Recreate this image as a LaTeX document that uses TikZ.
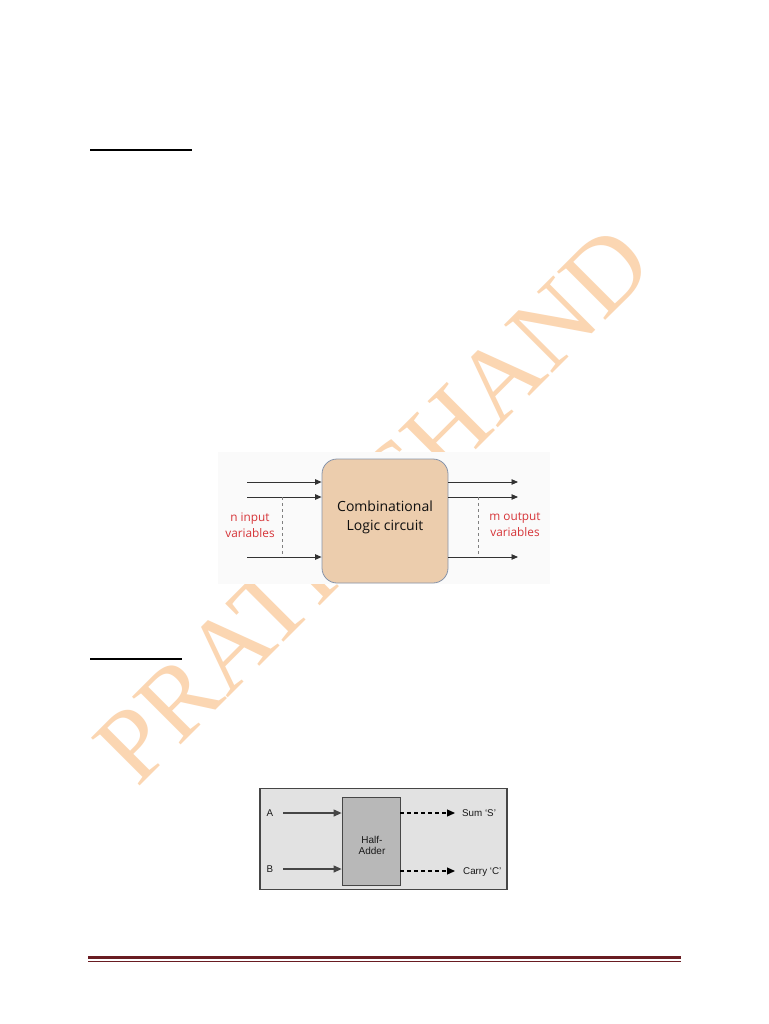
\documentclass[tikz,border=0pt]{standalone}
\usepackage{fontspec}
\setmainfont{Liberation Serif}
\newfontfamily\osans{Open Sans}
\newfontfamily\lsans{Liberation Sans}
\usetikzlibrary{arrows.meta}
\definecolor{wmark}{RGB}{251,214,178}
\definecolor{peach}{RGB}{236,205,173}
\definecolor{boxedge}{RGB}{135,148,170}
\definecolor{lblred}{RGB}{214,52,56}
\definecolor{footred}{RGB}{105,28,34}
\definecolor{imgbg}{RGB}{250,250,250}
\definecolor{habg}{RGB}{226,226,226}
\definecolor{habox}{RGB}{184,184,184}
\definecolor{haedge}{RGB}{70,70,70}
\definecolor{lineg}{RGB}{50,50,50}
\begin{document}
\begin{tikzpicture}[x=1pt,y=-1pt,
  wm/.style={font=\fontsize{104}{104}\selectfont, text=wmark, rotate=45, inner sep=0pt},
  uline/.style={line width=2pt, black},
  cbox/.style={draw=boxedge, fill=peach, line width=0.8pt, rounded corners=15pt, minimum width=126pt, minimum height=124pt, inner sep=0pt},
  cbtext/.style={font=\osans\fontsize{14}{19}\selectfont, text={rgb,255:red,15;green,15;blue,15}, align=center, inner sep=0pt},
  carrow/.style={draw=lineg, line width=0.9pt, -{Triangle[length=6.5pt,width=5.5pt]}},
  dashln/.style={draw=gray, line width=0.7pt, dash pattern=on 3pt off 3pt},
  redlbl/.style={font=\osans\fontsize{11.8}{16}\selectfont, text=lblred, align=center, inner sep=0pt},
  haframe/.style={draw=haedge, fill=habg, line width=1.6pt, minimum width=247pt, minimum height=101pt, inner sep=0pt},
  hbox/.style={draw=haedge, fill=habox, line width=0.8pt, minimum width=58pt, minimum height=88pt, inner sep=0pt},
  hatext/.style={font=\lsans\fontsize{9.8}{11}\selectfont, text={rgb,255:red,25;green,25;blue,25}, inner sep=0pt},
  harrow/.style={draw=haedge, line width=1.2pt, -{Triangle[length=8pt,width=7pt]}},
  hdarrow/.style={draw=black, line width=1.2pt, dash pattern=on 4pt off 3pt, -{Triangle[length=8pt,width=7pt]}}
]
\useasboundingbox (0,0) rectangle (768,1024);
\fill[white] (0,0) rectangle (768,1024);

% watermark
\node[wm] (wmk) at (373,505) {PRATIKCHAND};

% heading underlines
\draw[uline] (90,150) -- (192,150);
\draw[uline] (90,659) -- (182,659);

% combinational logic figure
\node[fill=imgbg, minimum width=332pt, minimum height=132pt, inner sep=0pt] (img1) at (384,518) {};
\node[cbox] (cb) at (385,521) {};
\node[cbtext] (cbt) at (385,517.5) {Combinational\\Logic circuit};

\coordinate (i1) at (247,482);
\coordinate (i2) at (247,497);
\coordinate (i3) at (247,557);
\draw[carrow] (i1) -- (i1 -| cb.west);
\draw[carrow] (i2) -- (i2 -| cb.west);
\draw[carrow] (i3) -- (i3 -| cb.west);
\coordinate (dl1) at (282,497);
\coordinate (dl2) at (282,557);
\draw[dashln] (dl1) -- (dl2);

\coordinate (o1) at (518,482);
\coordinate (o2) at (518,497);
\coordinate (o3) at (518,557);
\draw[carrow] (o1 -| cb.east) -- (o1);
\draw[carrow] (o2 -| cb.east) -- (o2);
\draw[carrow] (o3 -| cb.east) -- (o3);
\coordinate (dr1) at (478,497);
\coordinate (dr2) at (478,557);
\draw[dashln] (dr1) -- (dr2);

\node[redlbl] (nin) at (250,525) {n input\\variables};
\node[redlbl] (mout) at (515,525) {m output\\variables};

% half adder figure
\node[haframe] (haf) at (383.5,839) {};
\node[hbox] (ha) at (371,841) {};
\node[hatext, align=center, font=\lsans\fontsize{10}{11}\selectfont] (hat) at (372,845) {Half-\\Adder};
\node[hatext] (la) at (270,813) {A};
\node[hatext] (lb) at (270,869) {B};
\coordinate (ha1) at (283,813);
\coordinate (hb1) at (283,869);
\draw[harrow] (ha1) -- (ha1 -| ha.west);
\draw[harrow] (hb1) -- (hb1 -| ha.west);
\coordinate (hs) at (455,813);
\coordinate (hc) at (455,871);
\draw[hdarrow] (hs -| ha.east) -- (hs);
\draw[hdarrow] (hc -| ha.east) -- (hc);
\node[hatext, anchor=west] (lsum) at (462,813) {Sum ‘S’};
\node[hatext, anchor=west] (lcar) at (463,872) {Carry ‘C’};

% footer rule
\fill[footred] (88,955.5) rectangle (681,959);
\draw[footred, line width=0.8pt] (88,961.5) -- (681,961.5);
\end{tikzpicture}
\end{document}
